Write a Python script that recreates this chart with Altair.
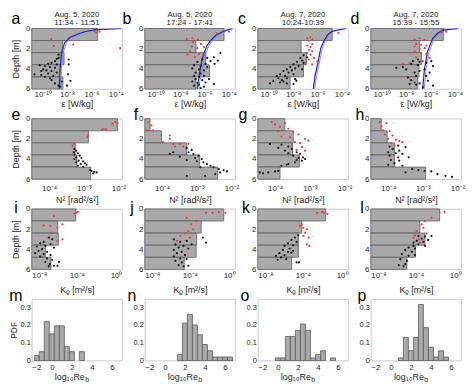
import altair as alt
import pandas as pd

FONT = "Liberation Sans"
TXT = "#262626"
W, H, H4 = 91, 61, 62
FILL, EDGE = "#a9a9a9", "#5c5c5c"
RED, BLACK = "#f03c3c", "#151515"
BLUE, LBLUE = "#2424cc", "#8a8af0"

# ---------------- data (depth [m], log10 value) ----------------
DEPTH_TOP = [0.0, 1.2, 2.4, 3.6, 4.8]
DEPTH_BOT = [1.2, 2.4, 3.6, 4.8, 6.0]

TITLES = [["Aug. 5, 2020", "11:34 - 11:51"], ["Aug. 5, 2020", "17:24 - 17:41"],
          ["Aug. 7, 2020", "10:24-10:39"], ["Aug. 7, 2020", "15:39 - 15:55"]]

# epsilon panels a-d
A_BARS = [-5.5, -8.35, -8.25, -8.6, -8.35]
A_RED = [(0.25, -5.75), (0.32, -5.35), (0.38, -5.6), (1.05, -9.3), (1.6, -7.5), (1.75, -9.1), (1.95, -3.65)]
A_BLACK = [(2.6, -8.7), (2.92, -8.7), (3.02, -8.85), (3.25, -9.0), (3.41, -9.28), (3.51, -9.55), (3.57, -8.86),
           (3.64, -10.25), (3.73, -9.83), (3.83, -9.41), (3.9, -9.0), (4.06, -9.97), (4.16, -9.7), (4.22, -10.12),
           (4.22, -9.28), (4.38, -8.86), (4.48, -9.55), (4.55, -10.68), (4.61, -10.12), (4.71, -9.13), (4.8, -9.83),
           (4.94, -9.41), (5.13, -9.28), (5.45, -9.0), (5.68, -8.71), (5.78, -8.57), (3.08, -7.87), (3.57, -7.87),
           (4.55, -7.93), (5.19, -7.73), (5.68, -8.01), (5.26, -8.44)]
A_CURVE = [(0, -3.6), (0.12, -5.6), (0.3, -6.5), (0.5, -7.0), (0.9, -7.8), (1.4, -8.2), (2.4, -8.45), (3.5, -8.55), (6.0, -8.65)]
A_CURVE2 = [(0, -3.55), (0.12, -5.45), (0.3, -6.35), (0.5, -6.85), (0.9, -7.65), (1.4, -8.05), (2.4, -8.33), (3.5, -8.45), (6.0, -8.55)]

B_BARS = [-4.4, -6.7, -5.9, -5.6, -6.7]
B_RED = [(0.32, -4.0), (0.45, -5.0), (1.04, -7.45), (0.97, -7.0), (1.1, -6.55), (1.36, -6.95), (1.53, -6.3),
         (1.79, -7.05), (1.95, -6.6), (1.85, -6.05), (2.27, -7.2), (2.53, -6.45), (2.66, -6.0), (2.6, -7.4), (2.86, -6.8)]
B_BLACK = [(2.92, -5.78), (3.08, -6.18), (3.25, -5.51), (3.31, -6.59), (3.51, -5.92), (3.64, -6.86), (3.73, -6.32),
           (3.83, -5.78), (2.86, -5.23), (3.18, -4.91), (3.51, -5.18), (2.44, -4.7), (3.96, -7.0), (4.06, -6.45),
           (4.16, -6.05), (4.38, -6.73), (4.48, -6.32), (4.71, -6.86), (4.8, -6.45), (4.71, -6.05), (5.03, -6.73),
           (5.13, -6.18), (5.26, -7.0), (5.39, -6.59), (5.36, -5.92), (5.58, -6.45), (5.68, -6.86), (5.78, -6.05),
           (5.91, -6.32), (5.03, -5.64), (5.52, -5.23)]
B_CURVE = [(0, -3.75), (0.3, -4.5), (0.7, -5.1), (1.2, -5.5), (1.7, -5.8), (3.0, -6.2), (4.7, -6.45), (6.0, -6.6)]
B_CURVE2 = [(0, -3.65), (0.3, -4.35), (0.7, -4.95), (1.2, -5.35), (1.7, -5.65), (3.0, -6.07), (4.7, -6.33), (6.0, -6.48)]

C_BARS = [-4.8, -7.35, -6.9, -7.15, -8.25]
C_RED = [(0.45, -4.3), (0.88, -6.58), (0.97, -6.85), (1.07, -6.44), (1.23, -6.72), (1.56, -6.44), (1.69, -6.85),
         (1.85, -6.58), (2.11, -6.72), (2.27, -6.44), (2.44, -6.85), (2.6, -6.58), (2.92, -6.3), (3.08, -6.72),
         (3.25, -6.02), (3.41, -7.0), (3.57, -6.44)]
C_BLACK = [(2.66, -7.14), (2.86, -6.85), (2.92, -7.41), (3.18, -7.27), (3.31, -7.68), (3.41, -7.14), (3.57, -7.97),
           (3.73, -7.55), (3.83, -8.24), (3.96, -7.83), (4.06, -8.52), (4.16, -8.1), (4.22, -8.8), (4.38, -8.38),
           (4.55, -7.97), (4.55, -9.07), (4.71, -8.66), (4.71, -9.35), (4.94, -8.52), (4.94, -9.21), (5.13, -8.93),
           (5.19, -9.63), (5.26, -8.8), (5.45, -9.9), (5.36, -9.07), (5.45, -8.52), (5.03, -7.83), (4.06, -7.27),
           (5.19, -7.74), (5.52, -7.97)]
C_CURVE = [(0, -3.7), (0.27, -4.8), (0.6, -5.15), (1.3, -5.5), (2.0, -5.75), (3.0, -5.9), (4.67, -6.2), (6.0, -6.35)]
C_CURVE2 = [(0, -3.62), (0.27, -4.65), (0.6, -5.02), (1.3, -5.38), (2.0, -5.63), (3.0, -5.78), (4.67, -6.08), (6.0, -6.23)]

D_BARS = [-4.95, -6.9, -6.75, -6.95, -7.05]
D_RED = [(0.32, -4.71), (0.39, -5.12), (0.97, -6.9), (1.07, -7.31), (1.14, -6.49), (1.56, -7.18), (1.62, -6.77),
         (1.69, -6.35), (1.79, -7.31), (2.01, -6.9), (1.95, -6.49), (2.27, -7.31), (2.44, -6.77), (2.53, -6.35),
         (2.86, -7.18), (2.92, -6.08), (3.25, -6.63), (3.41, -7.72), (3.57, -8.27)]
D_BLACK = [(3.08, -7.04), (3.25, -7.45), (3.31, -6.9), (3.51, -7.59), (3.64, -7.04), (3.25, -5.94), (3.73, -5.8),
           (3.41, -6.35), (3.9, -8.82), (4.06, -8.0), (3.83, -8.27), (4.06, -6.49), (4.22, -6.9), (4.38, -7.31),
           (4.38, -6.08), (4.71, -6.35), (4.71, -7.18), (4.87, -7.86), (5.13, -7.59), (5.36, -7.31), (5.52, -7.72),
           (5.58, -7.18), (5.45, -6.9), (5.19, -6.22), (5.68, -5.8), (5.84, -6.63)]
D_CURVE = [(0, -3.78), (0.17, -5.0), (0.5, -5.45), (1.0, -5.83), (2.3, -6.25), (4.0, -6.5), (6.0, -6.65)]
D_CURVE2 = [(0, -3.68), (0.17, -4.85), (0.5, -5.3), (1.0, -5.7), (2.3, -6.12), (4.0, -6.37), (6.0, -6.52)]

# N^2 panels e-h
E_BARS = [-2.03, -2.87, -3.25, -3.2, -2.8]
E_RED = [(0.33, -2.09), (0.43, -2.03), (0.5, -2.17), (1.0, -2.43), (1.07, -2.36), (1.1, -2.48), (1.67, -2.87),
         (1.83, -2.9), (2.5, -3.27), (2.67, -3.32)]
E_BLACK = [(3.0, -3.27), (3.17, -3.22), (3.33, -3.29), (3.43, -3.17), (3.57, -3.27), (3.67, -3.12), (3.83, -3.22),
           (3.9, -3.07), (4.0, -3.27), (4.17, -3.15), (4.23, -3.02), (4.33, -3.22), (4.5, -3.09), (4.43, -2.97),
           (4.67, -3.17), (4.77, -3.02), (4.57, -2.92), (5.17, -2.78), (5.27, -2.7), (5.33, -2.63), (5.43, -2.73),
           (5.1, -2.82)]
F_BARS = [-4.35, -4.02, -3.3, -2.92, -2.4]
F_RED = [(0.33, -4.4), (0.67, -4.31), (1.17, -4.45), (1.17, -4.26), (1.67, -3.78), (2.0, -3.78), (2.33, -3.97),
         (2.5, -3.68), (2.5, -3.49), (2.77, -3.39), (2.77, -3.63), (2.5, -3.24)]
F_BLACK = [(2.9, -3.29), (3.1, -3.15), (3.5, -3.78), (3.33, -3.68), (3.33, -3.24), (3.5, -3.1), (3.67, -2.95),
           (3.77, -3.49), (3.9, -3.05), (4.0, -2.86), (4.1, -3.29), (4.23, -3.0), (4.33, -2.81), (4.5, -2.71),
           (4.67, -2.61), (4.83, -2.9), (4.83, -2.52), (5.0, -2.37), (5.1, -2.23), (5.23, -2.13), (5.33, -2.33),
           (5.67, -2.76), (5.67, -3.29), (5.5, -2.47)]
G_BARS = [-3.72, -3.48, -3.5, -3.3, -3.86]
G_RED = [(0.33, -4.1), (0.57, -4.0), (0.43, -3.72), (0.83, -3.86), (1.0, -3.62), (1.23, -3.91), (1.33, -3.48),
         (1.57, -3.33), (1.77, -3.82), (1.83, -3.57), (2.0, -3.14), (2.17, -3.04), (2.33, -3.43), (2.43, -3.28),
         (2.67, -3.52), (2.83, -3.23), (3.1, -3.38), (3.17, -3.14)]
G_BLACK = [(2.5, -4.15), (2.57, -3.82), (2.77, -3.62), (2.9, -3.91), (3.0, -3.52), (3.17, -3.72), (3.33, -3.38),
           (3.43, -3.62), (3.5, -3.28), (3.67, -3.48), (3.83, -3.2), (3.9, -3.33), (4.1, -3.38), (4.17, -3.23),
           (4.0, -3.14), (4.33, -3.43), (4.5, -3.62), (4.67, -3.82), (4.57, -3.67), (5.33, -4.2), (5.43, -4.35),
           (5.33, -4.44), (5.23, -4.0), (5.17, -3.91)]
H_BARS = [-4.2, -4.03, -3.82, -3.82, -2.92]
H_RED = [(0.33, -4.24), (0.43, -4.05), (0.77, -4.19), (1.17, -4.15), (1.23, -3.96), (1.57, -4.1), (1.67, -3.87),
         (2.0, -4.0), (2.1, -3.78), (2.23, -3.68), (2.43, -3.92), (2.33, -3.59), (2.67, -3.82)]
H_BLACK = [(2.77, -3.96), (2.67, -3.71), (2.83, -3.5), (3.0, -3.87), (3.17, -3.68), (3.33, -4.0), (3.43, -3.78),
           (3.5, -3.59), (3.67, -3.96), (3.83, -3.71), (3.83, -3.41), (4.1, -3.92), (4.17, -3.68), (4.43, -3.82),
           (4.57, -4.0), (4.67, -3.59), (5.0, -3.31), (5.1, -3.13), (5.17, -2.95), (5.23, -2.76), (5.33, -3.5),
           (5.5, -2.58), (5.67, -2.35), (5.77, -2.16)]

# K_rho panels i-l
I_BARS = [-4.1, -5.7, -5.65, -6.8, -6.3]
I_RED = [(0.39, -4.08), (0.49, -4.22), (0.3, -3.92), (0.72, -6.03), (1.7, -6.34), (1.54, -5.28), (1.64, -6.94),
         (1.87, -5.73), (3.02, -5.28), (3.18, -5.73), (2.36, -6.19)]
I_BLACK = [(2.85, -6.49), (3.02, -6.19), (3.28, -6.94), (3.41, -7.25), (3.51, -6.34), (3.67, -6.79), (3.74, -7.55),
           (3.84, -6.03), (4.0, -7.09), (4.16, -7.4), (4.26, -6.64), (4.39, -7.7), (4.49, -6.94), (4.59, -6.34),
           (4.72, -7.25), (4.92, -6.64), (5.05, -6.19), (5.25, -6.79), (5.48, -6.4), (5.64, -6.03), (5.7, -6.49),
           (5.25, -5.58), (5.64, -5.73)]
J_BARS = [-1.0, -3.0, -3.4, -3.45, -4.5]
J_RED = [(0.39, -2.0), (0.33, -1.43), (0.39, -0.86), (0.39, -2.57), (0.89, -4.29), (1.21, -3.43), (1.54, -3.86),
         (2.2, -4.14), (2.69, -4.86), (3.18, -5.15), (2.03, -3.71), (2.43, -4.43), (2.85, -4.0)]
J_BLACK = [(3.02, -5.43), (3.28, -4.86), (3.18, -4.29), (3.51, -5.29), (3.67, -4.57), (3.84, -5.0), (3.93, -4.14),
           (4.07, -5.43), (4.26, -4.72), (4.39, -5.15), (4.59, -4.43), (4.72, -5.43), (4.92, -4.86), (4.98, -4.29),
           (5.15, -5.29), (5.31, -4.72), (5.57, -5.0), (5.7, -4.57), (5.64, -4.14), (2.85, -2.86), (3.34, -2.57),
           (3.51, -3.86)]
K_BARS = [-2.0, -4.1, -4.4, -4.4, -5.0]
K_RED = [(0.39, -2.74), (0.3, -2.28), (0.49, -1.83), (0.39, -2.13), (1.54, -4.11), (1.87, -3.96), (2.03, -3.65),
         (2.69, -3.96), (2.85, -3.5), (3.51, -3.65), (3.67, -3.43), (1.7, -4.26), (2.36, -3.8)]
K_BLACK = [(2.62, -4.41), (2.85, -4.71), (3.08, -5.02), (3.28, -4.56), (3.41, -5.32), (3.61, -4.87), (3.67, -5.63),
           (3.93, -5.17), (4.07, -5.78), (4.26, -5.32), (4.39, -6.08), (4.59, -5.63), (4.66, -6.39), (4.82, -5.93),
           (4.33, -5.02), (4.98, -5.48), (5.05, -6.24), (5.31, -4.56), (5.31, -4.35), (4.16, -4.87)]
L_BARS = [-1.9, -3.65, -3.2, -4.05, -4.8]
L_RED = [(0.39, -1.9), (0.3, -1.46), (0.89, -2.62), (1.21, -3.2), (1.87, -3.34), (2.2, -3.93), (2.85, -4.22),
         (3.02, -3.78), (1.54, -3.49), (2.43, -3.06), (2.62, -4.08), (3.34, -3.64)]
L_BLACK = [(2.69, -3.78), (2.75, -3.2), (2.95, -3.49), (3.08, -2.91), (3.18, -3.93), (3.28, -3.34), (3.51, -3.78),
           (3.67, -4.22), (3.67, -3.2), (3.84, -4.65), (3.93, -4.08), (4.07, -4.95), (4.26, -4.36), (4.49, -5.24),
           (4.66, -4.65), (4.59, -4.08), (4.98, -5.38), (5.15, -4.8), (5.48, -4.95), (5.57, -5.52), (5.7, -5.09),
           (2.69, -2.62), (3.34, -4.22)]

# histograms m-p (bin centre, PDF)
M_CENTERS = [-1.5, -1.0, -0.5, 0.0, 0.5, 1.0, 1.5, 2.0, 3.0]
M_PDF = [0.028, 0.05, 0.22, 0.15, 0.195, 0.195, 0.08, 0.05, 0.05]
N_CENTERS = [1.5, 2.0, 2.5, 3.0, 3.5, 4.0, 4.5, 5.0, 5.5, 6.0, 6.5]
N_PDF = [0.035, 0.21, 0.26, 0.2, 0.145, 0.09, 0.055, 0.02, 0.02, 0.02, 0.02]
O_CENTERS = [0.0, 0.5, 1.0, 1.5, 2.0, 2.5, 3.0, 3.5, 4.0, 4.5, 5.5]
O_PDF = [0.015, 0.015, 0.135, 0.135, 0.17, 0.205, 0.17, 0.015, 0.035, 0.055, 0.015]
P_CENTERS = [1.0, 1.5, 2.0, 2.5, 3.0, 3.5, 4.0, 4.5, 5.0, 5.5]
P_PDF = [0.015, 0.13, 0.055, 0.13, 0.315, 0.185, 0.075, 0.02, 0.055, 0.02]

SUP = str.maketrans("-0123456789", "⁻⁰¹²³⁴⁵⁶⁷⁸⁹")


def pow_expr(ticks):
    expr = "''"
    for t in reversed(ticks):
        expr = f"datum.value == {t} ? '10{str(t).translate(SUP)}' : {expr}"
    return expr


def pts(pairs):
    return pd.DataFrame({"d": [p[0] for p in pairs], "x": [p[1] for p in pairs]})


def text_layer(txt, dx, dy, size=16, align="center", color="black"):
    return alt.Chart(pd.DataFrame({"t": [txt]})).mark_text(
        font=FONT, fontSize=size, align=align, baseline="middle", color=color
    ).encode(text="t:N", x=alt.value(dx), y=alt.value(dy))


def profile(bars, red, black, dom, ticks, xtitle, letter, ldx, ldy, first=False,
            curves=(), title=None, lpad=2, tpad=1):
    xenc = alt.X("x:Q", scale=alt.Scale(domain=dom, nice=False, zero=False),
                 axis=alt.Axis(values=ticks, labelExpr=pow_expr(ticks), title=xtitle,
                               labelPadding=lpad, titlePadding=tpad))
    yax = alt.Axis(values=[0, 2, 4, 6], title="Depth [m]", titlePadding=5) if first else \
        alt.Axis(values=[0, 2, 4, 6], title=None)
    yenc = alt.Y("d:Q", scale=alt.Scale(domain=[0, 6], reverse=True, nice=False, zero=False), axis=yax)
    bar_df = pd.DataFrame({"d": DEPTH_TOP, "d2": DEPTH_BOT, "x": bars})
    layers = [alt.Chart(bar_df).mark_rect(fill=FILL, stroke=EDGE, strokeWidth=0.8).encode(
        x=xenc, x2=alt.value(0), y=yenc, y2="d2:Q")]
    for crv, col, sw in curves:
        layers.append(alt.Chart(pts(crv)).mark_line(color=col, strokeWidth=sw, clip=True).encode(
            x=xenc, y=yenc, order=alt.Order("d:Q")))
    layers.append(alt.Chart(pts(red)).mark_circle(size=5, color=RED, opacity=1, clip=True).encode(x=xenc, y=yenc))
    layers.append(alt.Chart(pts(black)).mark_circle(size=5, color=BLACK, opacity=1, clip=True).encode(x=xenc, y=yenc))
    layers.append(text_layer(letter, ldx, ldy))
    if title:
        layers.append(text_layer(title[0], W / 2, -14, size=8, color=TXT))
        layers.append(text_layer(title[1], W / 2, -5, size=8, color=TXT))
    return alt.layer(*layers).properties(width=W, height=H)


def hist(centers, pdf, letter, ldx, ldy, first=False):
    df = pd.DataFrame({"c": centers, "p": pdf})
    xenc = alt.X("x0:Q", scale=alt.Scale(domain=[-2, 7], nice=False, zero=False),
                 axis=alt.Axis(values=[-2, 0, 2, 4, 6], title=None, labelPadding=3))
    yax_kw = dict(values=[0, 0.1, 0.2, 0.3], labelExpr="datum.value == 0 ? '0' : format(datum.value, '.1f')",
                  labelFontSize=7.5, labelPadding=1.5)
    if first:
        yax = alt.Axis(title="PDF", titlePadding=1, titleFontSize=8.5, **yax_kw)
    else:
        yax = alt.Axis(title=None, **yax_kw)
    yenc = alt.Y("p:Q", scale=alt.Scale(domain=[0, 0.345], nice=False, zero=False), axis=yax)
    bars = alt.Chart(df).transform_calculate(x0="datum.c - 0.25", x1="datum.c + 0.25").mark_rect(
        fill=FILL, stroke=EDGE, strokeWidth=0.8).encode(x=xenc, x2="x1:Q", y=yenc, y2=alt.value(H4))
    t1 = text_layer("log₁₀Re", W / 2 + 8, H4 + 17, size=9, align="right", color=TXT)
    t2 = text_layer("b", W / 2 + 8.5, H4 + 20, size=7, align="left", color=TXT)
    return alt.layer(bars, t1, t2, text_layer(letter, ldx, ldy)).properties(width=W, height=H4)


EPS_DOM, EPS_TICKS = [-10.9, -3.5], [-10, -8, -6, -4]
N2_DOM, N2_TICKS = [-4.5, -1.9], [-4, -3, -2]
K_DOM, K_TICKS = [-8, 0], [-8, -6, -4, -2, 0]
EPS_T, N2_T, K_T = "ε [W/kg]", "N² [rad²/s²]", "Kᵨ [m²/s]"


def cv(a, b):
    return [(b, LBLUE, 1.0), (a, BLUE, 1.2)]


panels = [
    profile(A_BARS, A_RED, A_BLACK, EPS_DOM, EPS_TICKS, EPS_T, "a", -16, -10, True, cv(A_CURVE, A_CURVE2), TITLES[0]),
    profile(B_BARS, B_RED, B_BLACK, EPS_DOM, EPS_TICKS, EPS_T, "b", -18, -10, False, cv(B_CURVE, B_CURVE2), TITLES[1]),
    profile(C_BARS, C_RED, C_BLACK, EPS_DOM, EPS_TICKS, EPS_T, "c", -16, -10, False, cv(C_CURVE, C_CURVE2), TITLES[2]),
    profile(D_BARS, D_RED, D_BLACK, EPS_DOM, EPS_TICKS, EPS_T, "d", -16, -10, False, cv(D_CURVE, D_CURVE2), TITLES[3]),
    profile(E_BARS, E_RED, E_BLACK, N2_DOM, N2_TICKS, N2_T, "e", -16, -4, True, lpad=5, tpad=4),
    profile(F_BARS, F_RED, F_BLACK, N2_DOM, N2_TICKS, N2_T, "f", -9, -4, lpad=5, tpad=4),
    profile(G_BARS, G_RED, G_BLACK, N2_DOM, N2_TICKS, N2_T, "g", -15, -4, lpad=5, tpad=4),
    profile(H_BARS, H_RED, H_BLACK, N2_DOM, N2_TICKS, N2_T, "h", -11, -4, lpad=5, tpad=4),
    profile(I_BARS, I_RED, I_BLACK, K_DOM, K_TICKS, K_T, "i", -16, -1, True, tpad=6),
    profile(J_BARS, J_RED, J_BLACK, K_DOM, K_TICKS, K_T, "j", -13, -1, tpad=6),
    profile(K_BARS, K_RED, K_BLACK, K_DOM, K_TICKS, K_T, "k", -12, -1, tpad=6),
    profile(L_BARS, L_RED, L_BLACK, K_DOM, K_TICKS, K_T, "l", -9, -1, tpad=6),
    hist(M_CENTERS, M_PDF, "m", -16, -3, True),
    hist(N_CENTERS, N_PDF, "n", -13, -3),
    hist(O_CENTERS, O_PDF, "o", -13, -3),
    hist(P_CENTERS, P_PDF, "p", -9, -3),
]

chart = alt.concat(
    *panels, columns=4, bounds="flush", padding=0,
    spacing=alt.RowColnumber(row=30, column=23)
).configure_view(
    stroke="#bdbdbd", strokeWidth=0.8
).configure_axis(
    labelFont=FONT, titleFont=FONT, labelFontSize=8, titleFontSize=9, titleFontWeight="normal",
    labelColor=TXT, titleColor=TXT, domain=False, ticks=False, grid=False,
    labelPadding=2, titlePadding=2
)

chart.save("out.html", embed_options={"renderer": "svg", "actions": False})
